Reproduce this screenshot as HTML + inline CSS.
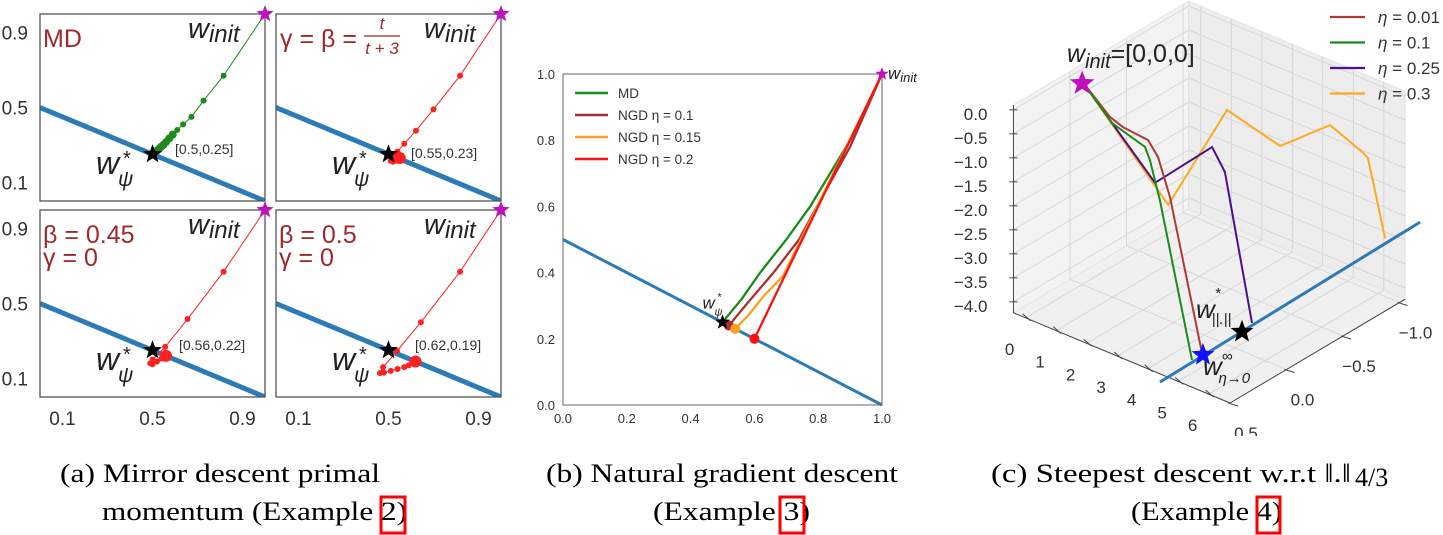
<!DOCTYPE html>
<html><head><meta charset="utf-8"><style>
html,body{margin:0;padding:0;background:#fff;}
svg{display:block;font-family:"Liberation Sans",sans-serif;}
.cap{font-family:"Liberation Serif",serif;font-size:26px;fill:#000;}
</style></head><body>
<svg id="fig" width="1443" height="535" viewBox="0 0 1443 535" xmlns="http://www.w3.org/2000/svg">
<defs>
<clipPath id="clipC"><rect x="930" y="0" width="513" height="436"/></clipPath>
</defs>
<g id="panelA"></g>
<g id="panelB"></g>
<g id="panelC" clip-path="url(#clipC)"></g>
<g>
<text class="cap" x="60" y="482" textLength="320" lengthAdjust="spacingAndGlyphs">(a) Mirror descent primal</text>
<text class="cap" x="102" y="520" textLength="305" lengthAdjust="spacingAndGlyphs">momentum (Example 2)</text>
<rect x="381" y="497" width="24" height="36" fill="none" stroke="#f00" stroke-width="3"/>
<text class="cap" x="546" y="482" textLength="352" lengthAdjust="spacingAndGlyphs">(b) Natural gradient descent</text>
<text class="cap" x="653" y="520" textLength="157" lengthAdjust="spacingAndGlyphs">(Example 3)</text>
<rect x="780" y="497" width="24" height="36" fill="none" stroke="#f00" stroke-width="3"/>
<text class="cap" x="991" y="482" textLength="360" lengthAdjust="spacingAndGlyphs">(c) Steepest descent w.r.t ‖.‖</text>
<text class="cap" x="1355" y="486" font-size="17">4/3</text>
<text class="cap" x="1131" y="520" textLength="151" lengthAdjust="spacingAndGlyphs">(Example 4)</text>
<rect x="1257" y="497" width="23" height="36" fill="none" stroke="#f00" stroke-width="3"/>
</g>
</svg>
<script>
const NS="http://www.w3.org/2000/svg";
// ---------- Panel A data ----------
const aTitles=["MD","γ = β = t/(t+3)","β = 0.45|γ = 0","β = 0.5|γ = 0"];
const aLabels=["[0.5,0.25]","[0.55,0.23]","[0.56,0.22]","[0.62,0.19]"];
const aColors=["#1a8a1a","#ff2020","#ff2020","#ff2020"];
const aTraj0X=[1,0.816,0.727,0.673,0.636,0.61,0.59,0.575,0.56,0.548,0.538,0.53,0.52,0.512,0.505,0.5];
const aTraj0Y=[1,0.67,0.537,0.45,0.41,0.38,0.355,0.335,0.315,0.30,0.29,0.28,0.27,0.262,0.255,0.25];
const aTraj1X=[1,0.818,0.70,0.622,0.57,0.54,0.52,0.51,0.52,0.535,0.545,0.55];
const aTraj1Y=[1,0.67,0.49,0.376,0.306,0.265,0.235,0.215,0.21,0.215,0.225,0.23];
const aTraj2X=[1,0.816,0.656,0.556,0.50,0.49,0.50,0.52,0.54,0.55,0.56];
const aTraj2Y=[1,0.67,0.417,0.268,0.20,0.18,0.175,0.19,0.205,0.213,0.22];
const aTraj3X=[1,0.818,0.644,0.538,0.476,0.462,0.48,0.51,0.54,0.57,0.59,0.61,0.62];
const aTraj3Y=[1,0.67,0.40,0.246,0.16,0.128,0.13,0.14,0.15,0.16,0.17,0.18,0.19];
const aTicks=[0.1,0.5,0.9];
const aOptimum=[0.5,0.25];
const aLineX=[0,1], aLineY=[0.5,0];
// ---------- Panel B data ----------
const bSeriesNames=["MD","NGD η = 0.1","NGD η = 0.15","NGD η = 0.2"];
const bColors=["#1a8a1a","#a83030","#ffa020","#ff1010"];
const bMDX=[1,0.9,0.775,0.7,0.618,0.56,0.5];
const bMDY=[1,0.8,0.6,0.5,0.4,0.32,0.25];
const bN1X=[1,0.9,0.796,0.74,0.66,0.58,0.52];
const bN1Y=[1,0.78,0.6,0.5,0.4,0.31,0.24];
const bN15X=[1,0.69,0.63,0.58,0.54];
const bN15Y=[1,0.39,0.33,0.27,0.23];
const bN2X=[1,0.6];
const bN2Y=[1,0.2];
const bTicks=[0,0.2,0.4,0.6,0.8,1.0];
// ---------- Panel C data ----------
const cNames=["η = 0.01","η = 0.1","η = 0.25","η = 0.3"];
const cColors=["#b03838","#1a8a1a","#4b0f8f","#ffa820"];
const cRedX=[0,0.91,1.34,2.16,2.49,2.88,3.93], cRedY=[0,0,0,0,0,0,0], cRedZ=[0,-0.50,-0.60,-0.65,-0.92,-1.65,-4.62];
const cGreenX=[0,0.98,2.06,2.22,2.55,3.60], cGreenY=[0,0,0,0,0,0], cGreenZ=[0,-0.61,-0.82,-1.05,-1.80,-4.85];
const cPurpleX=[0,2.39,4.26,4.68,5.57], cPurpleY=[0,0,0,0,0], cPurpleZ=[0,-1.48,-0.24,-0.65,-3.56];
const cOrangeX=[0,2.82,4.75,6.49,8.13,9.21,9.37,9.54,9.93], cOrangeY=[0,0,0,0,0,0,0,0,0], cOrangeZ=[0,-1.83,0.66,0.37,1.24,0.95,0.88,0.43,-0.64];
const cBlueX=[2.55,11.08], cBlueY=[0,0], cBlueZ=[-5.59,0];
const cStarOpt=[5.24,0,-3.83], cStarLim=[3.96,0,-4.65];
const cXTicks=[0,1,2,3,4,5,6];
const cYTicks=[-1.0,-0.5,0.0,0.5];
const cZTicks=[0.0,-0.5,-1.0,-1.5,-2.0,-2.5,-3.0,-3.5,-4.0];

function el(parent,tag,attrs,text){const e=document.createElementNS(NS,tag);for(const k in attrs)e.setAttribute(k,attrs[k]);if(text!==undefined)e.textContent=text;parent.appendChild(e);return e;}
function starPts(cx,cy,r){let p=[];for(let i=0;i<10;i++){const rr=i%2?r*0.42:r;const a=-Math.PI/2+i*Math.PI/5;p.push((cx+rr*Math.cos(a)).toFixed(1)+","+(cy+rr*Math.sin(a)).toFixed(1));}return p.join(" ");}

// ---------- Panel A ----------
(function(){
const g=document.getElementById('panelA');
const origins=[[40,14],[276,14],[40,210],[276,210]];
const W=225,H=187;
const trajX=[aTraj0X,aTraj1X,aTraj2X,aTraj3X], trajY=[aTraj0Y,aTraj1Y,aTraj2Y,aTraj3Y];
const defs=document.querySelector('defs');
origins.forEach((o,i)=>{
  const sx=v=>o[0]+v*W, sy=v=>o[1]+H-v*H;
  const cp=el(defs,'clipPath',{id:'clipA'+i});el(cp,'rect',{x:o[0],y:o[1],width:W,height:H});
  const sg=el(g,'g',{});
  
  
  const inner=el(sg,'g',{'clip-path':'url(#clipA'+i+')'});
  const ln=el(inner,'line',{x1:sx(aLineX[0]),y1:sy(aLineY[0]),x2:sx(aLineX[1]),y2:sy(aLineY[1]),stroke:'#2d7bb6','stroke-width':5});
  
  
  const X=trajX[i],Y=trajY[i];
  const pl=el(inner,'polyline',{points:X.map((x,k)=>sx(x)+','+sy(Y[k])).join(' '),fill:'none',stroke:aColors[i],'stroke-width':1});
  
  
  X.forEach((x,k)=>{if(k===0)return;const last=k===X.length-1;
    const c=el(inner,'circle',{cx:sx(x),cy:sy(Y[k]),r:(last&&i>0)?6:(i===0&&k>5?4:3),fill:aColors[i]});
    
    });
  const st=el(sg,'polygon',{points:starPts(sx(aOptimum[0]),sy(aOptimum[1]),10),fill:'#000'});
  
  
  const fr=el(sg,'rect',{x:o[0],y:o[1],width:W,height:H,fill:'none',stroke:'#555','stroke-width':1.3});
  
  
  const ps=el(sg,'polygon',{points:starPts(sx(1),sy(1),9),fill:'#c010c0'});
  
  
  const parts=aTitles[i].split('|');
  parts.forEach((t,k)=>{let tx;
    if(t.indexOf('t/(t+3)')>=0){
      tx=el(sg,'text',{x:o[0]+4,y:o[1]+33,'font-size':25,fill:'#a0282a'},'γ = β = ');
      el(sg,'text',{x:o[0]+106,y:o[1]+15,'font-size':17,fill:'#a0282a','font-style':'italic','text-anchor':'middle'},'t');
      el(sg,'line',{x1:o[0]+88,y1:o[1]+22,x2:o[0]+124,y2:o[1]+22,stroke:'#a0282a','stroke-width':1.3});
      el(sg,'text',{x:o[0]+106,y:o[1]+40,'font-size':17,fill:'#a0282a','font-style':'italic','text-anchor':'middle'},'t + 3');
    } else {
      tx=el(sg,'text',{x:o[0]+3,y:o[1]+33+k*23,'font-size':25,fill:'#a0282a'},t);
    }
    
    
  });
  const wi=el(sg,'text',{x:o[0]+148,y:o[1]+24,'font-size':29,fill:'#222','font-style':'italic'},'w');
  el(wi,'tspan',{'font-size':24,dy:4},'init');
  
  
  const ws=el(sg,'text',{x:o[0]+56,y:o[1]+160,'font-size':32,fill:'#222','font-style':'italic'},'w');
  
  
  const wa=el(sg,'text',{x:o[0]+83,y:o[1]+151,'font-size':20,fill:'#222'},'*');
  
  
  const wp=el(sg,'text',{x:o[0]+78,y:o[1]+172,'font-size':21,fill:'#222','font-style':'italic'},'ψ');
  
  
  const lb=el(sg,'text',{x:o[0]+135+(i>=2?4:0),y:o[1]+140+(i===1?4:0),'font-size':14,fill:'#333'},aLabels[i]);
  
  
  if(i%2===0){aTicks.forEach(t=>{const tt=el(g,'text',{x:28,y:sy(t)+7,'font-size':19,fill:'#333','text-anchor':'end'},t.toFixed(1));
    
    });}
  if(i>=2){aTicks.forEach(t=>{const tt=el(g,'text',{x:sx(t),y:425,'font-size':19,fill:'#333','text-anchor':'middle'},t.toFixed(1));
    
    });}
});
})();

// ---------- Panel B ----------
(function(){
const g=document.getElementById('panelB');
const x0=563,x1=882,yT=74,yB=405;
const sx=v=>x0+v*(x1-x0), sy=v=>yB-v*(yB-yT);
const ln=el(g,'line',{x1:sx(0),y1:sy(0.5),x2:sx(1),y2:sy(0),stroke:'#2d7bb6','stroke-width':3});


const fr=el(g,'rect',{x:x0,y:yT,width:x1-x0,height:yB-yT,fill:'none',stroke:'#666','stroke-width':1});


const XS=[bMDX,bN1X,bN15X,bN2X], YS=[bMDY,bN1Y,bN15Y,bN2Y];
XS.forEach((X,i)=>{const Y=YS[i];
  const p=el(g,'polyline',{points:X.map((x,k)=>sx(x)+','+sy(Y[k])).join(' '),fill:'none',stroke:bColors[i],'stroke-width':2.3,'stroke-linejoin':'round'});
  
  
  if(i>0){const c=el(g,'circle',{cx:sx(X[X.length-1]),cy:sy(Y[Y.length-1]),r:5,fill:bColors[i]});
    
    }
});
const st=el(g,'polygon',{points:starPts(sx(0.5),sy(0.25),8),fill:'#000'});


const ps=el(g,'polygon',{points:starPts(sx(1),sy(1),7),fill:'#c010c0'});


const wi=el(g,'text',{x:sx(1)+6,y:sy(1)+5,'font-size':17,fill:'#222','font-style':'italic'},'w');
el(wi,'tspan',{'font-size':13,dy:3},'init');


const ws=el(g,'text',{x:sx(0.5)-20,y:sy(0.25)-14,'font-size':17,fill:'#222','font-style':'italic'},'w');


const wa=el(g,'text',{x:sx(0.5)-5,y:sy(0.25)-22,'font-size':11,fill:'#222'},'*');


const wp=el(g,'text',{x:sx(0.5)-8,y:sy(0.25)-7,'font-size':11,fill:'#222','font-style':'italic'},'ψ');


bTicks.forEach(t=>{
  const a=el(g,'text',{x:x0-8,y:sy(t)+5,'font-size':13,fill:'#333','text-anchor':'end'},t.toFixed(1));
  
  
  const b=el(g,'text',{x:sx(t),y:yB+18,'font-size':13,fill:'#333','text-anchor':'middle'},t.toFixed(1));
  
  
});
bSeriesNames.forEach((n,i)=>{const y=93+i*22;
  const l=el(g,'line',{x1:575,y1:y,x2:608,y2:y,stroke:bColors[i],'stroke-width':2.5});
  
  
  const t=el(g,'text',{x:618,y:y+5,'font-size':13.5,fill:'#333'},n);
  
  
});
})();

// ---------- Panel C ----------
(function(){
const g=document.getElementById('panelC');
const XMIN=-0.4,XMAX=6.7,YMIN=-1.05,YMAX=0.5,ZMIN=-4.23,ZMAX=0.1;
function P(x,y,z){const a=x-6.7,b=y-0.5,c=z-ZMIN;return [1230+30.5*a-113*b, 403+12.7*a+67*b-48*c];}
const pt=q=>q[0].toFixed(1)+','+q[1].toFixed(1);
function poly(pts,fill,name){const p=el(g,'polygon',{points:pts.map(pt).join(' '),fill:fill,stroke:'#e4e4e4','stroke-width':1});
  
  }
poly([P(XMIN,YMIN,ZMIN),P(XMIN,YMAX,ZMIN),P(XMIN,YMAX,ZMAX),P(XMIN,YMIN,ZMAX)],'#f3f3f3','pane-x');
poly([P(XMIN,YMIN,ZMIN),P(XMAX,YMIN,ZMIN),P(XMAX,YMIN,ZMAX),P(XMIN,YMIN,ZMAX)],'#ededed','pane-y');
poly([P(XMIN,YMIN,ZMIN),P(XMAX,YMIN,ZMIN),P(XMAX,YMAX,ZMIN),P(XMIN,YMAX,ZMIN)],'#f0f0f0','pane-floor');
function gl(a,b){const l=el(g,'line',{x1:a[0],y1:a[1],x2:b[0],y2:b[1],stroke:'#d6d6d6','stroke-width':1});
  
  }
cZTicks.forEach(z=>{gl(P(XMIN,YMAX,z),P(XMIN,YMIN,z));gl(P(XMIN,YMIN,z),P(XMAX,YMIN,z));});
cYTicks.forEach(y=>{if(y<YMIN||y>YMAX)return;gl(P(XMIN,y,ZMIN),P(XMIN,y,ZMAX));gl(P(XMIN,y,ZMIN),P(XMAX,y,ZMIN));});
cXTicks.forEach(x=>{gl(P(x,YMIN,ZMIN),P(x,YMIN,ZMAX));gl(P(x,YMIN,ZMIN),P(x,YMAX,ZMIN));});
function axl(a,b,name){const l=el(g,'line',{x1:a[0],y1:a[1],x2:b[0],y2:b[1],stroke:'#444','stroke-width':1});
  
  }
axl(P(XMIN,YMAX,ZMIN),P(XMIN,YMAX,ZMAX),'z-axis');
axl(P(XMIN,YMAX,ZMIN),P(XMAX,YMAX,ZMIN),'x-axis');
axl(P(XMAX,YMAX,ZMIN),P(XMAX,YMIN,ZMIN),'y-axis');
cZTicks.forEach(z=>{const q=P(XMIN,YMAX,z);axl([q[0]-4,q[1]],[q[0]+4,q[1]],'z-tick');
  const t=el(g,'text',{x:q[0]-26,y:q[1]+10,'font-size':17,fill:'#333','text-anchor':'end'},z.toFixed(1).replace('-','−'));
  
  });
cXTicks.forEach(x=>{const q=P(x,YMAX,ZMIN);axl([q[0]-3,q[1]-4],[q[0]+5,q[1]+3],'x-tick');
  const t=el(g,'text',{x:q[0]-16,y:q[1]+37,'font-size':17,fill:'#333','text-anchor':'middle'},String(x));
  
  });
cYTicks.forEach(y=>{const q=P(XMAX,y,ZMIN);axl([q[0]-2,q[1]],[q[0]+8,q[1]+3],'y-tick');
  const t=el(g,'text',{x:q[0]+16,y:q[1]+36,'font-size':17,fill:'#333','text-anchor':'middle'},y.toFixed(1).replace('-','−'));
  
  });
const bl=el(g,'polyline',{points:cBlueX.map((x,k)=>pt(P(x,cBlueY[k],cBlueZ[k]))).join(' '),stroke:'#2d7bb6','stroke-width':3,fill:'none'});


const SX=[cRedX,cGreenX,cPurpleX,cOrangeX],SY=[cRedY,cGreenY,cPurpleY,cOrangeY],SZ=[cRedZ,cGreenZ,cPurpleZ,cOrangeZ];
[3,2,0,1].forEach(i=>{const p=el(g,'polyline',{points:SX[i].map((x,k)=>pt(P(x,SY[i][k],SZ[i][k]))).join(' '),fill:'none',stroke:cColors[i],'stroke-width':2});
  
  });
const ps=P(0,0,0);
const s1=el(g,'polygon',{points:starPts(ps[0],ps[1]+2,13),fill:'#c010c0'});


const so=P(cStarOpt[0],cStarOpt[1],cStarOpt[2]);
const s2=el(g,'polygon',{points:starPts(so[0],so[1],12),fill:'#000'});


const sl=P(cStarLim[0],cStarLim[1],cStarLim[2]);
const s3=el(g,'polygon',{points:starPts(sl[0],sl[1],12),fill:'#1010ff'});


const wi=el(g,'text',{x:1067,y:62,'font-size':25,fill:'#222'},'');
el(wi,'tspan',{'font-style':'italic'},'w');
el(wi,'tspan',{'font-style':'italic','font-size':20,dy:6},'init');
el(wi,'tspan',{dy:-6},'=[0,0,0]');


const ws=el(g,'text',{x:1196,y:318,'font-size':26,fill:'#222','font-style':'italic'},'w');
el(ws,'tspan',{'font-size':15,dy:-20},'*');
el(ws,'tspan',{'font-size':15,dx:-9,dy:26},'||.||');


const wl=el(g,'text',{x:1203,y:375,'font-size':26,fill:'#222','font-style':'italic'},'w');
el(wl,'tspan',{'font-size':15,dy:-14},'∞');
el(wl,'tspan',{'font-size':15,dx:-14,dy:22},'η→0');


cNames.forEach((n,i)=>{const y=17+i*25.5;
  const l=el(g,'line',{x1:1330,y1:y,x2:1365,y2:y,stroke:cColors[i],'stroke-width':2.2});
  
  
  const t=el(g,'text',{x:1378,y:y+6,'font-size':17,fill:'#333'},'');
  el(t,'tspan',{'font-style':'italic'},'η');
  el(t,'tspan',{},n.slice(1));
  
  
});
})();
</script>
</body></html>
